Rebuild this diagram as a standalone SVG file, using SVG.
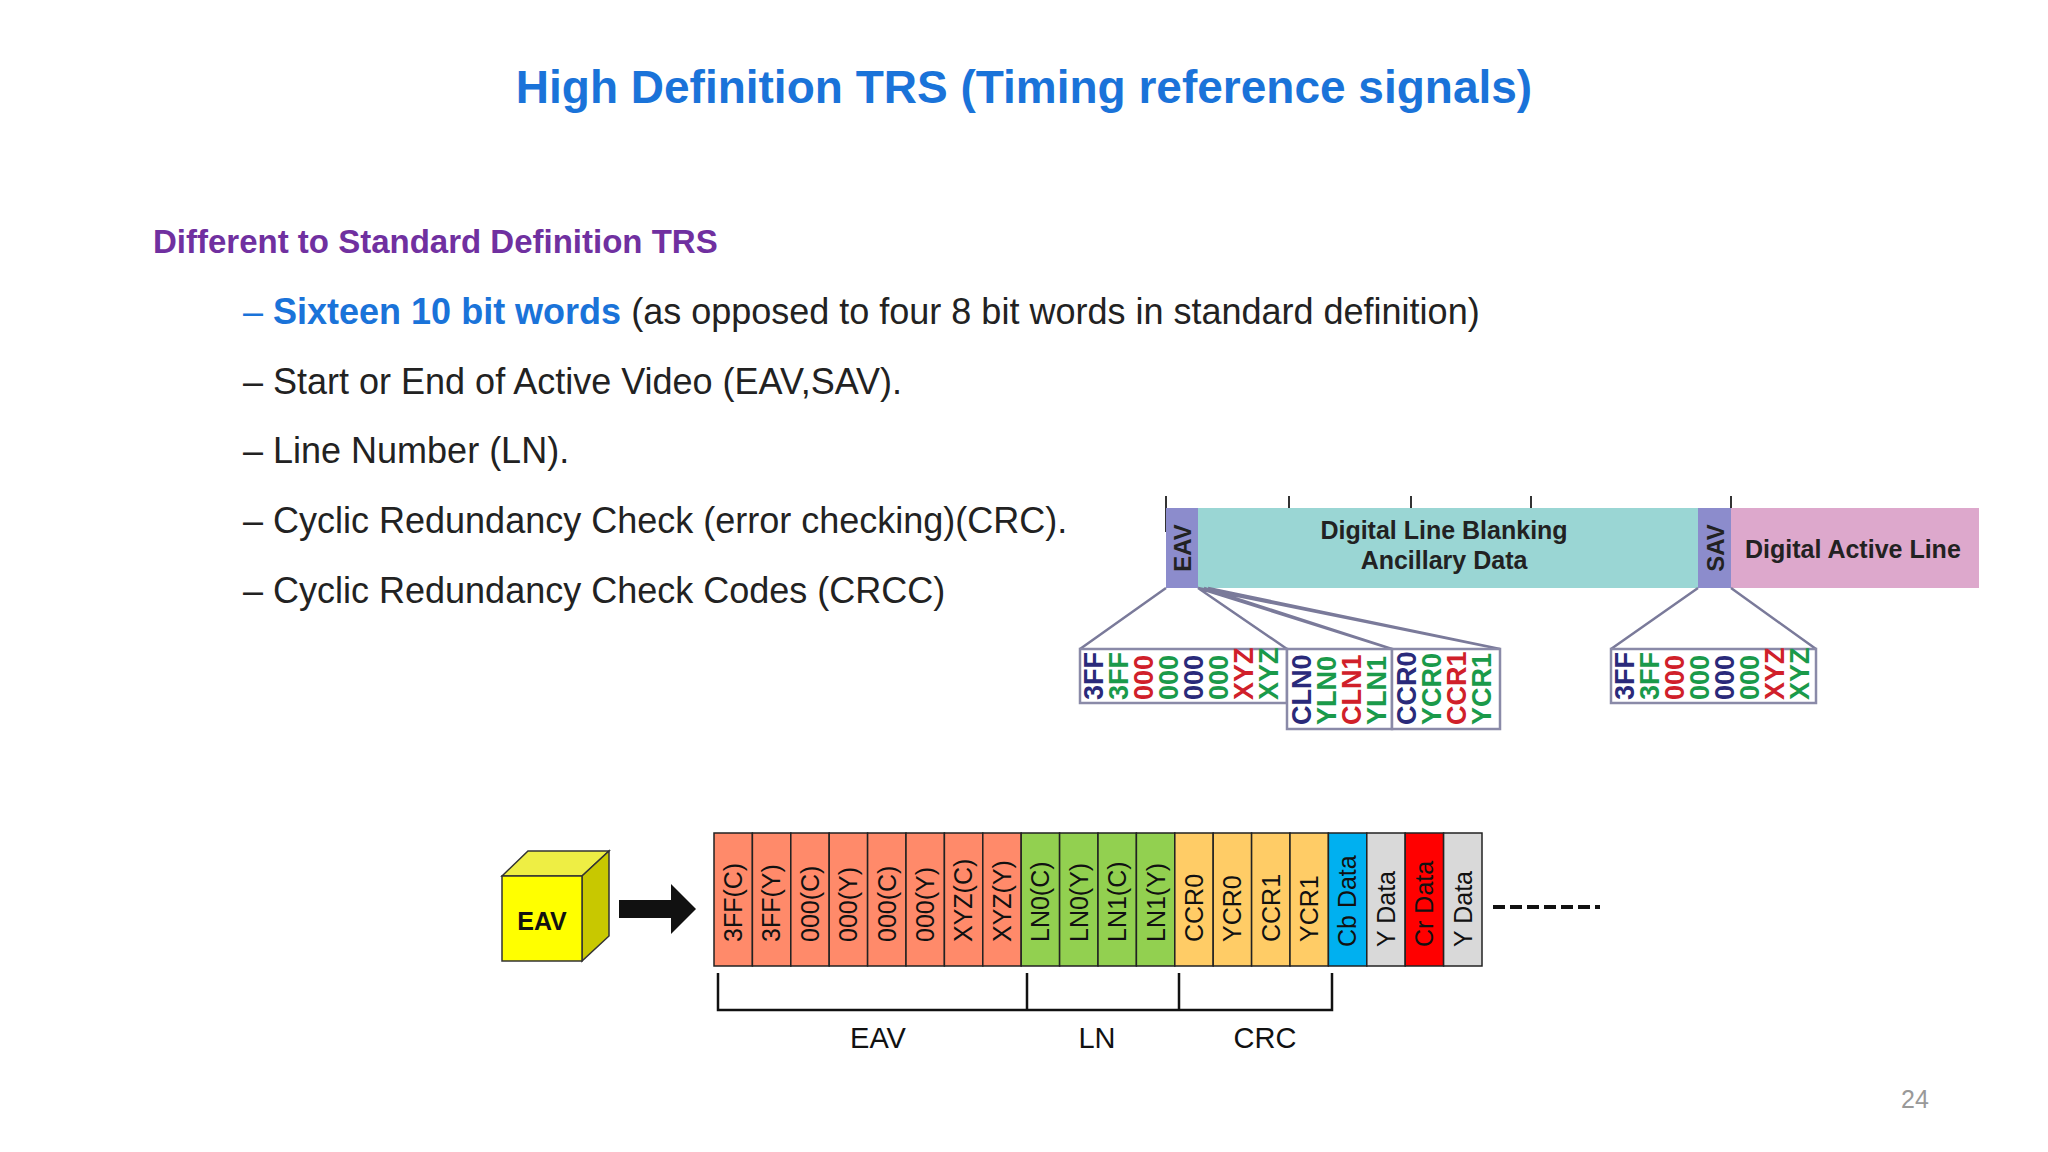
<svg xmlns="http://www.w3.org/2000/svg" width="2048" height="1152" viewBox="0 0 2048 1152">
<style>
.t{font-family:"Liberation Sans",Arial,sans-serif}
.b{font-family:"Liberation Sans",Arial,sans-serif;font-size:36px;fill:#222}
.w{font-family:"Liberation Sans",Arial,sans-serif;font-weight:bold;font-size:27px}
.n{fill:#2a2a7a}.g{fill:#1a9a4a}.r{fill:#d0202a}
.c{font-family:"Liberation Sans",Arial,sans-serif;font-size:25px;fill:#111}
.box{fill:#fff;stroke:#8a8aa8;stroke-width:2.5}
.ln{stroke:#7a7a9a;stroke-width:2.5;fill:none}
.cell{stroke:#222;stroke-width:1.5}
</style>
<rect width="2048" height="1152" fill="#fff"/>
<text class="t" x="1024" y="103" text-anchor="middle" font-size="46" font-weight="bold" fill="#1a73d9">High Definition TRS (Timing reference signals)</text>
<text class="t" x="153" y="253" font-size="33" font-weight="bold" fill="#7030a0">Different to Standard Definition TRS</text>
<text class="b" x="243" y="324"><tspan fill="#1a73d9">– </tspan><tspan fill="#1a73d9" font-weight="bold">Sixteen 10 bit words</tspan> (as opposed to four 8 bit words in standard definition)</text>
<text class="b" x="243" y="394">– Start or End of Active Video (EAV,SAV).</text>
<text class="b" x="243" y="463">– Line Number (LN).</text>
<text class="b" x="243" y="533">– Cyclic Redundancy Check (error checking)(CRC).</text>
<text class="b" x="243" y="603">– Cyclic Redundancy Check Codes (CRCC)</text>

<g id="top-bar">
<g stroke="#333" stroke-width="2"><line x1="1166" y1="496" x2="1166" y2="532"/><line x1="1289" y1="496" x2="1289" y2="516"/><line x1="1411" y1="496" x2="1411" y2="516"/><line x1="1531" y1="496" x2="1531" y2="516"/><line x1="1731" y1="496" x2="1731" y2="532"/></g>
<rect x="1166" y="508" width="32" height="80" fill="#8c8ccc"/>
<rect x="1198" y="508" width="500" height="80" fill="#9ad6d4"/>
<rect x="1698" y="508" width="33" height="80" fill="#8c8ccc"/>
<rect x="1731" y="508" width="248" height="80" fill="#dda8cc"/>
<text class="t" transform="translate(1191,548) rotate(-90)" text-anchor="middle" font-size="24" font-weight="bold" fill="#222">EAV</text>
<text class="t" transform="translate(1724,548) rotate(-90)" text-anchor="middle" font-size="24" font-weight="bold" fill="#222">SAV</text>
<text class="t" x="1444" y="539" text-anchor="middle" font-size="25" font-weight="bold" fill="#222">Digital Line Blanking</text>
<text class="t" x="1444" y="569" text-anchor="middle" font-size="25" font-weight="bold" fill="#222">Ancillary Data</text>
<text class="t" x="1745" y="558" font-size="25" font-weight="bold" fill="#222">Digital Active Line</text>
</g>
<g id="connectors">
<path class="ln" d="M1166 588L1080 649M1198 588L1287 649M1198 588L1392 649M1204 588L1392 649M1198 588L1500 649M1208 588L1500 649M1698 588L1611 649M1731 588L1816 649"/>
</g>
<g id="eav-words">
<rect class="box" x="1080" y="649" width="207" height="54"/>
<rect class="box" x="1287" y="649" width="105" height="80"/>
<rect class="box" x="1392" y="649" width="108" height="80"/>
<g class="w">
<text class="n" transform="translate(1103,700) rotate(-90)">3FF</text>
<text class="g" transform="translate(1128,700) rotate(-90)">3FF</text>
<text class="r" transform="translate(1153,700) rotate(-90)">000</text>
<text class="g" transform="translate(1178,700) rotate(-90)">000</text>
<text class="n" transform="translate(1203,700) rotate(-90)">000</text>
<text class="g" transform="translate(1228,700) rotate(-90)">000</text>
<text class="r" transform="translate(1253,700) rotate(-90)">XYZ</text>
<text class="g" transform="translate(1278,700) rotate(-90)">XYZ</text>
<text class="n" transform="translate(1311,725) rotate(-90)">CLN0</text>
<text class="g" transform="translate(1336,725) rotate(-90)">YLN0</text>
<text class="r" transform="translate(1361,725) rotate(-90)">CLN1</text>
<text class="g" transform="translate(1386,725) rotate(-90)">YLN1</text>
<text class="n" transform="translate(1416,725) rotate(-90)">CCR0</text>
<text class="g" transform="translate(1441,725) rotate(-90)">YCR0</text>
<text class="r" transform="translate(1466,725) rotate(-90)">CCR1</text>
<text class="g" transform="translate(1491,725) rotate(-90)">YCR1</text>
</g>
</g>
<g id="sav-words">
<rect class="box" x="1611" y="649" width="205" height="54"/>
<g class="w">
<text class="n" transform="translate(1634,700) rotate(-90)">3FF</text>
<text class="g" transform="translate(1659,700) rotate(-90)">3FF</text>
<text class="r" transform="translate(1684,700) rotate(-90)">000</text>
<text class="g" transform="translate(1709,700) rotate(-90)">000</text>
<text class="n" transform="translate(1734,700) rotate(-90)">000</text>
<text class="g" transform="translate(1759,700) rotate(-90)">000</text>
<text class="r" transform="translate(1784,700) rotate(-90)">XYZ</text>
<text class="g" transform="translate(1809,700) rotate(-90)">XYZ</text>
</g>
</g>

<g id="cube">
<polygon points="502,876 528,851 609,851 582,876" fill="#eeee44" stroke="#333" stroke-width="1.5"/>
<polygon points="582,876 609,851 609,936 582,961" fill="#c8c800" stroke="#333" stroke-width="1.5"/>
<rect x="502" y="876" width="80" height="85" fill="#ffff00" stroke="#333" stroke-width="1.5"/>
<text class="t" x="542" y="930" text-anchor="middle" font-size="25" font-weight="bold" fill="#111">EAV</text>
</g>
<g id="arrow"><polygon points="619,900 671,900 671,884 696,909 671,934 671,918 619,918" fill="#111"/></g>
<g id="cells">
<g class="cell">
<rect x="714" y="833" width="38.4" height="133" fill="#ff8a6a"/><rect x="752.4" y="833" width="38.4" height="133" fill="#ff8a6a"/><rect x="790.8" y="833" width="38.4" height="133" fill="#ff8a6a"/><rect x="829.2" y="833" width="38.4" height="133" fill="#ff8a6a"/><rect x="867.6" y="833" width="38.4" height="133" fill="#ff8a6a"/><rect x="906" y="833" width="38.4" height="133" fill="#ff8a6a"/><rect x="944.4" y="833" width="38.4" height="133" fill="#ff8a6a"/><rect x="982.8" y="833" width="38.4" height="133" fill="#ff8a6a"/>
<rect x="1021.2" y="833" width="38.4" height="133" fill="#92d050"/><rect x="1059.6" y="833" width="38.4" height="133" fill="#92d050"/><rect x="1098" y="833" width="38.4" height="133" fill="#92d050"/><rect x="1136.4" y="833" width="38.4" height="133" fill="#92d050"/>
<rect x="1174.8" y="833" width="38.4" height="133" fill="#ffcc66"/><rect x="1213.2" y="833" width="38.4" height="133" fill="#ffcc66"/><rect x="1251.6" y="833" width="38.4" height="133" fill="#ffcc66"/><rect x="1290" y="833" width="38.4" height="133" fill="#ffcc66"/>
<rect x="1328.4" y="833" width="38.4" height="133" fill="#00b0f0"/><rect x="1366.8" y="833" width="38.4" height="133" fill="#d9d9d9"/><rect x="1405.2" y="833" width="38.4" height="133" fill="#ff0000"/><rect x="1443.6" y="833" width="38.4" height="133" fill="#d9d9d9"/>
</g>
<g class="c">
<text transform="translate(742,942) rotate(-90)">3FF(C)</text>
<text transform="translate(780,942) rotate(-90)">3FF(Y)</text>
<text transform="translate(819,942) rotate(-90)">000(C)</text>
<text transform="translate(857,942) rotate(-90)">000(Y)</text>
<text transform="translate(896,942) rotate(-90)">000(C)</text>
<text transform="translate(934,942) rotate(-90)">000(Y)</text>
<text transform="translate(972,942) rotate(-90)">XYZ(C)</text>
<text transform="translate(1011,942) rotate(-90)">XYZ(Y)</text>
<text transform="translate(1049,942) rotate(-90)">LN0(C)</text>
<text transform="translate(1088,942) rotate(-90)">LN0(Y)</text>
<text transform="translate(1126,942) rotate(-90)">LN1(C)</text>
<text transform="translate(1165,942) rotate(-90)">LN1(Y)</text>
<text transform="translate(1203,942) rotate(-90)">CCR0</text>
<text transform="translate(1241,942) rotate(-90)">YCR0</text>
<text transform="translate(1280,942) rotate(-90)">CCR1</text>
<text transform="translate(1318,942) rotate(-90)">YCR1</text>
<text transform="translate(1356,947) rotate(-90)">Cb Data</text>
<text transform="translate(1395,947) rotate(-90)">Y Data</text>
<text transform="translate(1433,947) rotate(-90)">Cr Data</text>
<text transform="translate(1472,947) rotate(-90)">Y Data</text>
</g>
</g>
<line x1="1493" y1="907" x2="1600" y2="907" stroke="#111" stroke-width="4" stroke-dasharray="12,5"/>
<g id="brackets">
<path d="M718 973V1010H1332V973M1027 973V1010M1179 973V1010" fill="none" stroke="#111" stroke-width="2.5"/>
<text class="t" x="878" y="1048" text-anchor="middle" font-size="29" fill="#111">EAV</text>
<text class="t" x="1097" y="1048" text-anchor="middle" font-size="29" fill="#111">LN</text>
<text class="t" x="1265" y="1048" text-anchor="middle" font-size="29" fill="#111">CRC</text>
</g>
<text class="t" x="1915" y="1108" text-anchor="middle" font-size="25" fill="#999">24</text>
</svg>
